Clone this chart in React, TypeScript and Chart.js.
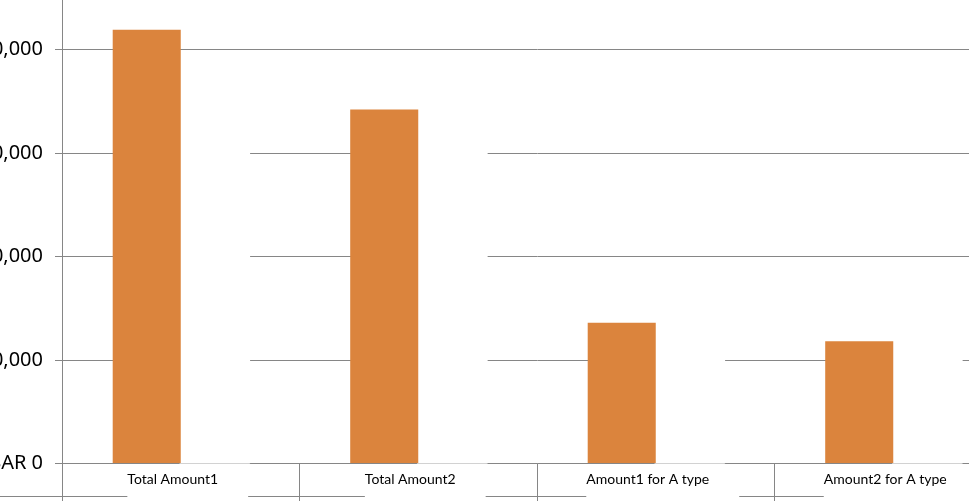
import { useEffect, useRef } from 'react';
import { Chart, registerables } from 'chart.js';

Chart.register(...registerables);

// categories along the bottom
const categories = ['Total Amount1', 'Total Amount2', 'Amount1 for A type', 'Amount2 for A type'];
// first series (orange bars)
const amountValues = [41900, 34200, 13600, 11800];
// second series, rendered white in the picture (only visible where it hides the grid)
const secondValues = [35000, 33000, 12500, 11000];
// y axis ticks
const yMax = 50000;
const yStep = 10000;
const currencyPrefix = 'SAR ';

const GRID = '#868686';
const LABEL_FONT = { family: 'Lato', size: 14 };

// thin line under the category labels, cut by the label backdrops
const labelLinePlugin = {
  id: 'labelLine',
  beforeDraw(chart: any) {
    const { ctx, chartArea, scales } = chart;
    const x = scales.x;
    const end = x.getPixelForValue(categories.length - 1);
    const y = Math.round(chartArea.bottom + 32) + 0.5;
    ctx.save();
    ctx.strokeStyle = GRID;
    ctx.lineWidth = 1;
    ctx.beginPath();
    ctx.moveTo(0, y);
    ctx.lineTo(end, y);
    ctx.stroke();
    ctx.restore();
  },
};

export default function App() {
  const canvasRef = useRef<HTMLCanvasElement | null>(null);

  useEffect(() => {
    if (!canvasRef.current) return;
    const ctx = canvasRef.current.getContext('2d');
    if (!ctx) return;

    const chart = new Chart(ctx, {
      type: 'bar',
      data: {
        labels: categories,
        datasets: [
          {
            data: amountValues,
            backgroundColor: '#DB843D',
            borderWidth: 0,
            categoryPercentage: 0.573,
            barPercentage: 1,
          },
          {
            data: secondValues,
            backgroundColor: '#ffffff',
            borderColor: '#ffffff',
            borderWidth: 1,
            borderSkipped: false,
            inflateAmount: 1.5,
            categoryPercentage: 0.573,
            barPercentage: 1,
          },
        ],
      },
      options: {
        animation: false,
        responsive: true,
        maintainAspectRatio: false,
        layout: { padding: { top: 20, left: 0, right: 0, bottom: 0 } },
        plugins: {
          legend: { display: false },
          tooltip: { enabled: false },
        },
        scales: {
          x: {
            offset: true,
            afterFit: (scale: any) => {
              scale.height = 61;
            },
            grid: {
              offset: true,
              drawOnChartArea: false,
              drawTicks: true,
              tickLength: 40,
              color: GRID,
            },
            border: { display: true, color: GRID },
            ticks: {
              padding: -32,
              labelOffset: -8,
              color: '#000',
              font: LABEL_FONT,
              maxRotation: 0,
              autoSkip: false,
              showLabelBackdrop: true,
              backdropColor: '#ffffff',
              backdropPadding: { top: 2, bottom: 12, left: 0, right: 30 },
            },
          },
          y: {
            min: 0,
            max: yMax,
            afterFit: (scale: any) => {
              scale.width = 130;
            },
            grid: {
              color: GRID,
              tickLength: 7,
            },
            border: { display: true, color: GRID },
            ticks: {
              stepSize: yStep,
              padding: 12,
              color: '#000',
              font: { family: "'Noto Sans'", size: 20 },
              callback: (v: any) => currencyPrefix + Number(v).toLocaleString('en-US'),
            },
          },
        },
      },
      plugins: [labelLinePlugin],
    });

    return () => {
      chart.destroy();
    };
  }, []);

  return (
    <div
      style={{
        position: 'fixed',
        left: 0,
        top: 0,
        width: 969,
        height: 501,
        overflow: 'hidden',
        background: '#fff',
      }}
    >
      <div style={{ position: 'absolute', left: -68, top: -78.5, width: 1080, height: 602.5 }}>
        <canvas ref={canvasRef}></canvas>
      </div>
    </div>
  );
}
